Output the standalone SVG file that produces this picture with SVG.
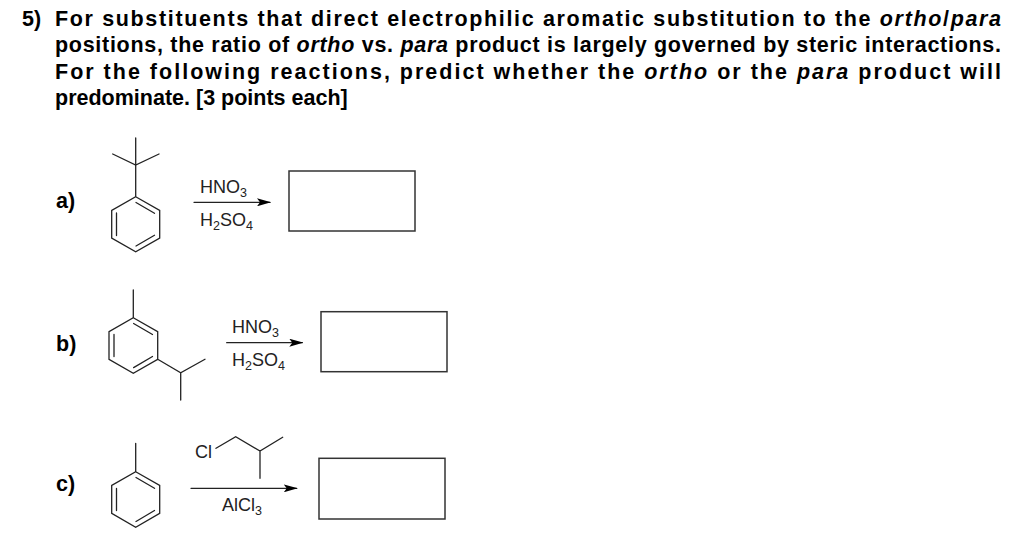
<svg xmlns="http://www.w3.org/2000/svg" width="1024" height="555" viewBox="0 0 1024 555">
<defs>
<style>
.h{font-family:"Liberation Sans",Arial,sans-serif;font-weight:bold;font-size:21.5px;fill:#000}
.t{font-family:"Liberation Sans",Arial,sans-serif;font-size:18px;fill:#222}
.s{font-size:12.5px}
.b{fill:none;stroke:#222;stroke-width:1.3;stroke-linecap:round}
.box{fill:#fff;stroke:#333;stroke-width:1.5}
</style>
<marker id="ah" markerWidth="14" markerHeight="8" refX="13" refY="4" orient="auto" markerUnits="userSpaceOnUse"><path d="M0,0 L14,4 L0,8 L3,4 Z" fill="#000"/></marker>
</defs>
<rect width="1024" height="555" fill="#fff"/>
<g id="question">
<text class="h" x="22" y="26">5)</text>
<text class="h" x="55" y="26" textLength="946" lengthAdjust="spacing">For substituents that direct electrophilic aromatic substitution to the <tspan font-style="italic">ortho</tspan>/<tspan font-style="italic">para</tspan></text>
<text class="h" x="55" y="52" textLength="946" lengthAdjust="spacing">positions, the ratio of <tspan font-style="italic">ortho</tspan> vs. <tspan font-style="italic">para</tspan> product is largely governed by steric interactions.</text>
<text class="h" x="55" y="79" textLength="946" lengthAdjust="spacing">For the following reactions, predict whether the <tspan font-style="italic">ortho</tspan> or the <tspan font-style="italic">para</tspan> product will</text>
<text class="h" x="55" y="105">predominate. [3 points each]</text>
<text class="h" x="56" y="208">a)</text>
<text class="h" x="56" y="351">b)</text>
<text class="h" x="56" y="491">c)</text>
</g>
<g id="molA">
<path class="b" d="M135.7,138 L135.7,196.7 M112.7,154 L135.7,165 L159,154 M135.7,196.7 L159.7,210.5 L159.7,238 L135.7,251.7 L111.7,238 L111.7,210.5 Z M136,202.5 L154.5,213.3 M116.5,213 L116.5,235.5 M136,246 L154.5,235.3"/>
</g>
<g id="molB">
<path class="b" d="M133.3,290 L133.3,317.7 M133.3,317.7 L157.7,331.7 L157.7,359.3 L133.3,373.3 L109,359.3 L109,331.7 Z M133.6,323.5 L152.5,334.5 M114,334.5 L114,356.5 M133.6,367.6 L152.5,356.5 M157.7,359.3 L180.7,372.7 L205,359.3 M180.7,372.7 L180.7,400"/>
</g>
<g id="molC">
<path class="b" d="M135.7,443.3 L135.7,471.7 M135.7,471.7 L159.7,485.5 L159.7,513.3 L135.7,527.3 L111.7,513.3 L111.7,485.5 Z M136,477.5 L154.5,488.3 M116.5,488.5 L116.5,510.5 M136,521.5 L154.5,510.5"/>
</g>
<g id="reagentC">
<text class="t" x="195" y="458">Cl</text>
<path class="b" d="M216,448.3 L235.7,436.7 L260,451 L282.7,437.3 M260,451 L260,478.3"/>
</g>
<g id="boxA"><rect class="box" x="289" y="171" width="126" height="60"/></g>
<g id="boxB"><rect class="box" x="321" y="311.7" width="126" height="60"/></g>
<g id="boxC"><rect class="box" x="319" y="458.3" width="126" height="60.7"/></g>
<g id="connectors">
<line class="b" x1="194" y1="202.3" x2="270" y2="202.3" marker-end="url(#ah)"/>
<line class="b" x1="226.7" y1="342.7" x2="302.3" y2="342.7" marker-end="url(#ah)"/>
<line class="b" x1="191" y1="488.3" x2="296.7" y2="488.3" marker-end="url(#ah)"/>
<text class="t" x="200" y="193">HNO<tspan class="s" dy="4">3</tspan></text>
<text class="t" x="200" y="226">H<tspan class="s" dy="4">2</tspan><tspan dy="-4">SO</tspan><tspan class="s" dy="4">4</tspan></text>
<text class="t" x="232" y="333">HNO<tspan class="s" dy="4">3</tspan></text>
<text class="t" x="232" y="366">H<tspan class="s" dy="4">2</tspan><tspan dy="-4">SO</tspan><tspan class="s" dy="4">4</tspan></text>
<text class="t" x="222" y="511">AlCl<tspan class="s" dy="4">3</tspan></text>
</g>
</svg>
